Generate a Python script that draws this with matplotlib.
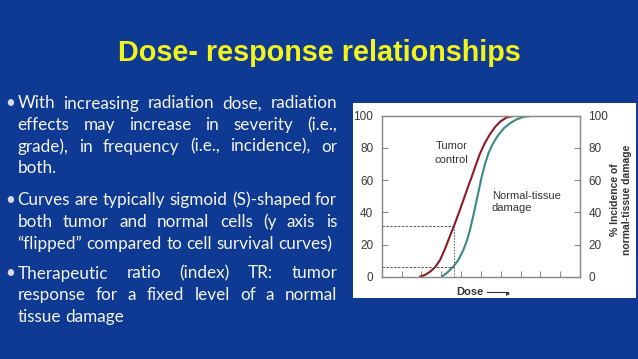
import matplotlib
matplotlib.use("Agg")
import matplotlib.pyplot as plt
from matplotlib.patches import Rectangle

# slide data
title = "Dose- response relationships"
bullets = [
    ["With increasing radiation dose, radiation",
     "effects may increase in severity (i.e.,",
     "grade), in frequency (i.e., incidence), or",
     "both."],
    ["Curves are typically sigmoid (S)-shaped for",
     "both tumor and normal cells (y axis is",
     "\u201cflipped\u201d compared to cell survival curves)"],
    ["Therapeutic ratio (index) TR: tumor",
     "response for a fixed level of a normal",
     "tissue damage"],
]
# baselines in pixels from the top
baselines = [[108.5, 130, 151.7, 173.3], [205, 227, 249], [278.5, 300, 321.7]]

# curve data (dose in arbitrary units 0-10, % incidence)
tumor_dose = [1.93, 2.2, 2.45, 2.7, 2.95, 3.2, 3.45, 3.66, 3.9, 4.12, 4.33, 4.54, 4.75, 4.96, 5.2, 5.46, 5.72, 5.97, 6.3, 6.7]
tumor_resp = [0, 1.2, 3.2, 6.0, 10.5, 17.5, 25.5, 32, 40, 47.6, 55, 62, 69.5, 76.6, 83, 88.5, 93, 96.3, 98.9, 100]
normal_dose = [3.03, 3.3, 3.61, 3.87, 4.12, 4.3, 4.45, 4.62, 4.79, 4.92, 5.04, 5.2, 5.38, 5.6, 5.88, 6.17, 6.47, 6.8, 7.14, 7.5, 7.9]
normal_resp = [0, 2.5, 6.2, 10.5, 16.6, 22.5, 29, 38, 47.6, 55, 62, 69.5, 76.6, 82.5, 88, 92.3, 95.3, 97.7, 99.2, 99.8, 100]
tr_dose = 3.66
tr_tumor = 31.7
tr_normal = 6.2
yticks = [0, 20, 40, 60, 80, 100]

W, H = 638, 359
fig = plt.figure(figsize=(W / 100, H / 100), dpi=100)
fig.patch.set_facecolor("#0e3a93")

def fx(px):
    return px / W

def fy(py):
    return 1 - py / H

# title
fig.text(0.5, fy(61), title, ha="center", va="baseline", color="#f2f21c",
         fontsize=20.7, fontweight="bold", family="Liberation Sans")

# bullet text, justified word by word
renderer = fig.canvas.get_renderer()
x0, x1 = 17.5, 337
fs = 12.3
font = "Lato"

def width_of(s):
    t = fig.text(0, 0, s, fontsize=fs, family=font)
    w = t.get_window_extent(renderer).width
    t.remove()
    return w

space_w = width_of("a a") - width_of("aa")
for para, ys in zip(bullets, baselines):
    fig.text(fx(5), fy(ys[0]), "\u2022", color="#d8d8e8", fontsize=fs, family=font, va="baseline")
    for i, (line, yb) in enumerate(zip(para, ys)):
        words = line.split(" ")
        widths = [width_of(w) for w in words]
        if i == len(para) - 1 or len(words) == 1:
            gap = space_w
        else:
            gap = (x1 - x0 - sum(widths)) / (len(words) - 1)
        x = x0
        for w, wd in zip(words, widths):
            fig.text(fx(x), fy(yb), w, color="#f4f4f4", fontsize=fs, family=font, va="baseline")
            x += wd + gap

# white panel behind the chart
fig.patches.append(Rectangle((fx(352.7), fy(297.7)), fx(636) - fx(352.7), fy(102.7) - fy(297.7),
                             transform=fig.transFigure, facecolor="white", edgecolor="none", zorder=-5))

ax = fig.add_axes([fx(381.7), fy(276.7), fx(580) - fx(381.7), fy(115.7) - fy(276.7)])
ax.set_zorder(2)
ax.set_facecolor("white")
ax.set_xlim(0, 10)
ax.set_ylim(0, 100)

ax.plot(tumor_dose, tumor_resp, color="#8c1c24", lw=1.5, solid_capstyle="round")
ax.plot(normal_dose, normal_resp, color="#3b8a80", lw=1.5, solid_capstyle="round")
ax.plot([0, tr_dose], [tr_tumor, tr_tumor], color="#555555", lw=0.7, ls=(0, (2.5, 1.5)))
ax.plot([0, tr_dose], [tr_normal, tr_normal], color="#555555", lw=0.7, ls=(0, (2.5, 1.5)))
ax.plot([tr_dose, tr_dose], [0, tr_tumor], color="#555555", lw=0.7, ls=(0, (1.5, 1.5)))

lab_kw = dict(fontsize=8, color="#333333", family="Liberation Sans")
ax.text(3.53, 81.4, "Tumor", ha="center", va="center", **lab_kw)
ax.text(3.53, 72.5, "control", ha="center", va="center", **lab_kw)
ax.text(5.55, 50.3, "Normal-tissue", ha="left", va="center", **lab_kw)
ax.text(5.55, 42.5, "damage", ha="left", va="center", **lab_kw)

for s in ax.spines.values():
    s.set_color("#8a8a8a")
    s.set_linewidth(1.0)

ax.set_xticks(range(1, 10))
ax.set_xticklabels([])
ax.tick_params(axis="x", direction="in", length=4, color="#8a8a8a")
ax.set_yticks(yticks)
ax.tick_params(axis="y", direction="in", length=4, color="#8a8a8a", labelsize=8.5,
               labelcolor="#3a3a3a", pad=6)
for lab in ax.get_yticklabels():
    lab.set_family("Liberation Sans")

ax2 = ax.twinx()
ax2.set_zorder(3)
ax2.patch.set_visible(False)
ax2.set_ylim(0, 100)
ax2.set_yticks(yticks)
ax2.tick_params(axis="y", direction="in", length=4, color="#8a8a8a", labelsize=8.5,
                labelcolor="#3a3a3a", pad=6)
for lab in ax2.get_yticklabels():
    lab.set_family("Liberation Sans")
for s in ax2.spines.values():
    s.set_color("#8a8a8a")

fig.text(fx(615), fy(200), "% Incidence of", rotation=90, ha="center", va="center",
         fontsize=7.5, fontweight="bold", color="#333333", family="Liberation Sans")
fig.text(fx(626.5), fy(200), "normal-tissue damage", rotation=90, ha="center", va="center",
         fontsize=7.5, fontweight="bold", color="#333333", family="Liberation Sans")

fig.text(fx(456.7), fy(292.3), "Dose", ha="left", va="center", fontsize=8,
         fontweight="bold", color="#333333", family="Liberation Sans")
fig.add_artist(plt.Line2D([fx(486.7), fx(508)], [fy(292.3), fy(292.3)], color="#333333", lw=0.8))
fig.text(fx(510.5), fy(292.3), "\u25b8", ha="right", va="center", fontsize=6, color="#333333")

fig.savefig("out.png", dpi=100, facecolor=fig.get_facecolor())
